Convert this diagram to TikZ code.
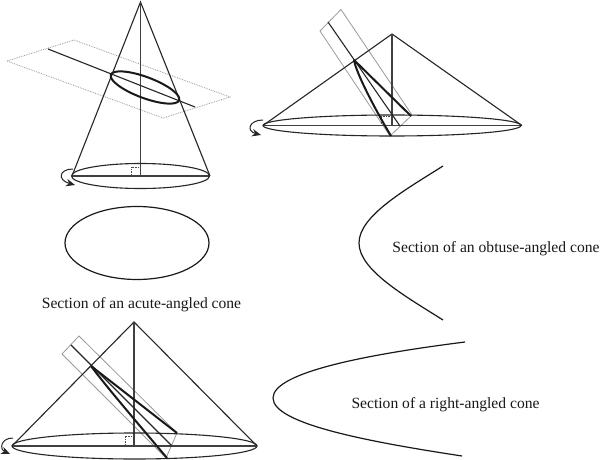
\documentclass[tikz,border=0pt]{standalone}
\usepackage{fontspec}
\setmainfont{Liberation Serif}
\usetikzlibrary{arrows.meta}
\tikzset{
  cone/.style={line width=1.1pt,black!85},
  axisline/.style={line width=1.1pt,black!75},
  heavy/.style={line width=2pt,black!90},
  planeline/.style={line width=0.8pt,black!40,densely dotted},
  planeedge/.style={line width=0.8pt,black!40},
  sectioncurve/.style={line width=1.2pt,black!90},
  rightmark/.style={line width=0.6pt,black!70,densely dotted},
  turn/.style={line width=1pt,black!85,-{Stealth[length=9pt,width=7.5pt]}},
  caption/.style={font=\fontsize{15.6}{18}\selectfont,black!90,inner sep=0pt,anchor=base}
}
\begin{document}
\begin{tikzpicture}[x=1pt,y=-1pt]
\useasboundingbox (0,0) rectangle (600,460);
\fill[white] (0,0) rectangle (600,460);
% acute cone
\coordinate (a1) at (140.5,2);
\coordinate (b1) at (72,176);
\coordinate (c1) at (210,176);
\coordinate (m1) at (140.5,176);
\draw[planeline] (7,61) -- (74,40) -- (230,97) -- (163,118) -- cycle;
\draw[cone] (b1) -- (a1) -- (c1);
\draw[axisline] (a1) -- (m1);
\draw[axisline] (b1) -- (c1);
\draw[cone] (m1) ellipse [x radius=69,y radius=12.5];
\draw[rightmark] (131,176) -- (131,167) -- (140.5,167);
\draw[cone] (48,49) -- (195,107);
\draw[heavy,rotate around={-20.5:(145,87.5)}] (145,87.5) ellipse [x radius=36.5,y radius=10.5];
\draw[turn] (73,169) .. controls (59,169) and (57,180) .. (75,185);
% obtuse cone
\coordinate (a2) at (392,34);
\coordinate (b2) at (263,125.5);
\coordinate (c2) at (522,125.5);
\coordinate (m2) at (392,125.5);
\coordinate (s2) at (354,60);
\draw[planeedge] (320,31) -- (341,9.5) -- (412,115) -- (390,136) -- cycle;
\draw[cone] (b2) -- (a2) -- (c2);
\draw[axisline] (a2) -- (m2);
\draw[axisline] (b2) -- (c2);
\draw[cone] (392,125.5) ellipse [x radius=129,y radius=10.5];
\draw[rightmark] (381,125.5) -- (381,116) -- (392,116);
\draw[cone] (328,22) -- (400,126);
\draw[heavy] (s2) -- (411,116);
\draw[heavy] (s2) .. controls (356,72) and (372,104) .. (391,136);
\draw[turn] (263,120) .. controls (249,120) and (246,131) .. (261,135);
% right cone
\coordinate (a3) at (134,322);
\coordinate (b3) at (12,446);
\coordinate (c3) at (257,446);
\coordinate (m3) at (134,446);
\coordinate (s3) at (91,366);
\draw[planeedge] (166,458) -- (62,354) -- (79,336) -- (177,433) -- cycle;
\draw[cone] (b3) -- (a3) -- (c3);
\draw[axisline] (a3) -- (m3);
\draw[axisline,line width=1.4pt] (b3) -- (c3);
\draw[cone] (134.5,446) ellipse [x radius=122.5,y radius=13];
\draw[rightmark] (125,446) -- (125,436) -- (134,436);
\draw[cone] (71,345) -- (172,446);
\draw[heavy] (s3) -- (177,433);
\draw[heavy] (s3) .. controls (105,385) and (135,420) .. (167,458);
\draw[turn] (13,438) .. controls (1,438) and (-1,449) .. (10,454);
% section curves
\draw[sectioncurve] (137,243) ellipse [x radius=72,y radius=36.5];
\draw[sectioncurve] (443,166) .. controls (405,190) and (359,216) .. (359,243) .. controls (359,270) and (405,296) .. (443,320);
\draw[sectioncurve] (465,342) .. controls (370,354) and (273,372) .. (273,398) .. controls (273,424) and (370,442) .. (462,456);
% captions
\node[caption] (cap1) at (141.5,308) {Section of an acute-angled cone};
\node[caption] (cap2) at (496,252) {Section of an obtuse-angled cone};
\node[caption] (cap3) at (445.5,408) {Section of a right-angled cone};
\end{tikzpicture}
\end{document}
